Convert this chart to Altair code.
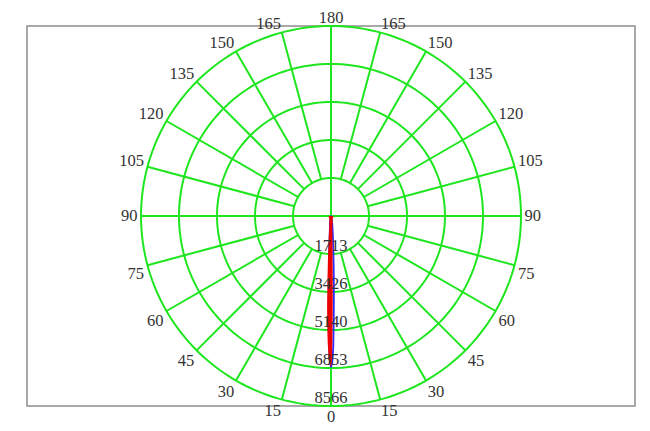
import math
import altair as alt
import pandas as pd

# ---------------- data ----------------
ring_values = [1713.2, 3426.4, 5139.6, 6852.8, 8566.0]
ring_labels = ["1713", "3426", "5140", "6853", "8566"]
spoke_angles = list(range(0, 360, 15))          # measured from the bottom (0) through the right side

# intensity (cd) vs angle (deg)
red_left_ang = [0, 0.5, 1, 1.5, 2, 2.5, 3, 4, 5, 6, 8, 10, 15, 20, 30, 45, 60, 90]
red_left_val = [6780, 6700, 6350, 5700, 4900, 4000, 3100, 2000, 1350, 950, 600, 430, 300, 210, 150, 125, 115, 110]
red_right_ang = [0, 0.3, 0.6, 1, 1.5, 2, 3, 4, 5, 6, 8, 10, 15, 20, 30, 45, 60, 90]
red_right_val = [6780, 6600, 5800, 4400, 3000, 2100, 1300, 900, 700, 580, 450, 380, 300, 210, 150, 125, 115, 110]
blue_left_ang = [0, 0.5, 1, 1.5, 2, 3, 4, 5, 6, 8, 10, 15, 20, 30, 45, 60, 90]
blue_left_val = [6820, 6500, 5500, 4000, 2800, 1500, 900, 600, 450, 300, 220, 100, 50, 20, 8, 3, 0]
blue_right_ang = [0, 0.5, 1, 1.5, 2, 2.5, 3, 4, 5, 6, 8, 10, 15, 20, 30, 45, 60, 90]
blue_right_val = [6820, 6600, 5900, 4700, 3700, 2900, 2300, 1500, 1050, 750, 450, 300, 130, 70, 30, 10, 4, 0]

R_MAX = 8566.0
PX = 190.0                       # outer ring radius in pixels
W, H = 608, 380
k = R_MAX / PX                   # cd per pixel
GREEN = "#1ee61e"
TEXT = "#333333"
FONT = "Liberation Serif"
FS = 16.5

# ---------------- tables ----------------
ring_rows = []
for i, v in enumerate(ring_values):
    for a in range(0, 361, 2):
        ring_rows.append({"ring": i, "r": v, "a": a})
rings = pd.DataFrame(ring_rows)

spoke_rows = []
for a in spoke_angles:
    r0 = 0.0 if a % 90 == 0 else ring_values[0]
    spoke_rows.append({"spoke": a, "r": r0, "a": a, "o": 0})
    spoke_rows.append({"spoke": a, "r": R_MAX, "a": a, "o": 1})
spokes = pd.DataFrame(spoke_rows)


def lobe(left_ang, left_val, right_ang, right_val):
    rows = []
    n = 0
    for a, v in zip(reversed(left_ang), reversed(left_val)):
        rows.append({"a": -a, "r": v, "o": n}); n += 1
    for a, v in zip(right_ang[1:], right_val[1:]):
        rows.append({"a": a, "r": v, "o": n}); n += 1
    return pd.DataFrame(rows)


red = lobe(red_left_ang, red_left_val, red_right_ang, red_right_val)
blue = lobe(blue_left_ang, blue_left_val, blue_right_ang, blue_right_val)

lab_r = R_MAX * 193.5 / PX
ang_lab = pd.DataFrame({"a": spoke_angles,
                        "label": [str(a if a <= 180 else 360 - a) for a in spoke_angles],
                        "r": [lab_r] * len(spoke_angles)})
ring_lab = pd.DataFrame({"r": ring_values, "label": ring_labels, "a": [0] * 5})

xs = alt.Scale(domain=[-W / 2 * k, W / 2 * k], nice=False, zero=False)
ys = alt.Scale(domain=[-H / 2 * k, H / 2 * k], nice=False, zero=False)


def polar(chart):
    return chart.transform_calculate(
        px="datum.r * sin(datum.a * PI / 180)",
        py="-datum.r * cos(datum.a * PI / 180)",
    )


def xy():
    return dict(x=alt.X("px:Q", scale=xs, axis=None), y=alt.Y("py:Q", scale=ys, axis=None))


ring_layer = polar(alt.Chart(rings)).mark_line(color=GREEN, strokeWidth=2).encode(
    detail="ring:N", order="a:Q", **xy())
spoke_layer = polar(alt.Chart(spokes)).mark_line(color=GREEN, strokeWidth=2).encode(
    detail="spoke:N", order="o:Q", **xy())
blue_layer = polar(alt.Chart(blue)).mark_line(color="#2a2aff", strokeWidth=1.8).encode(
    order="o:Q", **xy())
red_layer = polar(alt.Chart(red)).mark_line(color="#ee0000", fill="#ee0000", filled=True,
                                            strokeWidth=1.6, strokeJoin="round").encode(
    order="o:Q", **xy())

ring_text = polar(alt.Chart(ring_lab)).mark_text(
    font=FONT, fontSize=FS, color=TEXT, align="center", baseline="alphabetic", dy=-3
).encode(text="label:N", **xy())


def ang_text(cond, align, baseline, dy=0):
    return polar(alt.Chart(ang_lab)).transform_filter(cond).mark_text(
        font=FONT, fontSize=FS, color=TEXT, align=align, baseline=baseline, dy=dy
    ).encode(text="label:N", **xy())


labels = [
    ang_text("datum.a == 0", "center", "top", -1),
    ang_text("datum.a == 180", "center", "alphabetic"),
    ang_text("datum.a == 90", "left", "middle"),
    ang_text("datum.a == 270", "right", "middle"),
    ang_text("datum.a > 0 && datum.a < 90", "left", "top"),
    ang_text("datum.a > 90 && datum.a < 180", "left", "alphabetic"),
    ang_text("datum.a > 180 && datum.a < 270", "right", "alphabetic"),
    ang_text("datum.a > 270", "right", "top"),
]

chart = alt.layer(ring_layer, spoke_layer, blue_layer, red_layer, ring_text, *labels).properties(
    width=W, height=H,
    autosize=alt.AutoSizeParams(type="none"),
    padding={"left": 19, "top": 18, "right": 5, "bottom": 21},
).configure_view(stroke="#8c8c8c", strokeWidth=1.5)

chart.save("out.html", embed_options={"renderer": "svg", "actions": False})
